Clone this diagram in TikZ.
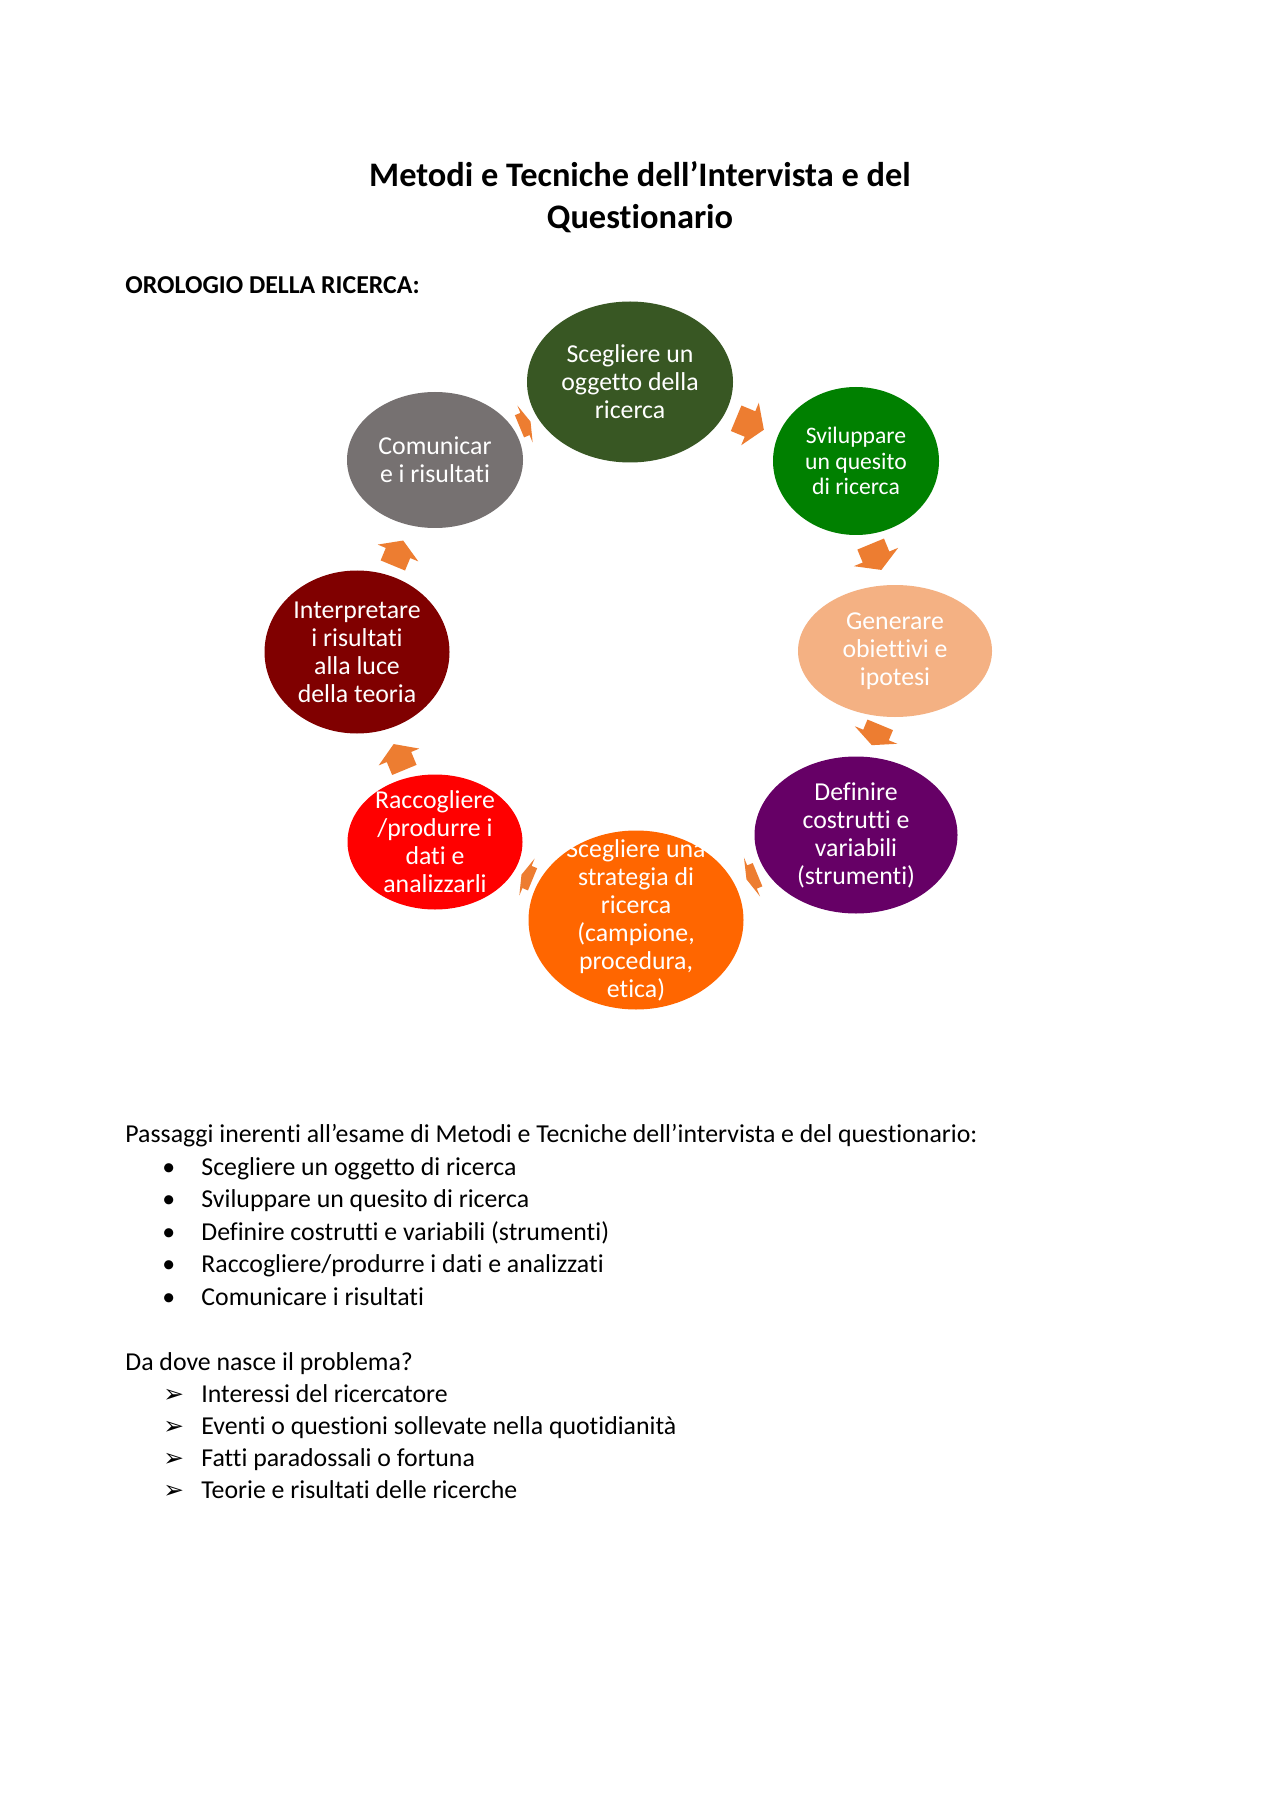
\documentclass[tikz,border=0pt]{standalone}
\usepackage{fontspec}
\setmainfont{Carlito}[Ligatures={NoCommon}]
\newfontfamily\djv{DejaVu Sans}
\usetikzlibrary{shapes.geometric}
\definecolor{arrowor}{HTML}{ED7D31}
\definecolor{cA}{HTML}{385723}
\definecolor{cB}{HTML}{008000}
\definecolor{cC}{HTML}{F4B183}
\definecolor{cD}{HTML}{660066}
\definecolor{cE}{HTML}{FF6600}
\definecolor{cF}{HTML}{FF0000}
\definecolor{cG}{HTML}{800000}
\definecolor{cH}{HTML}{767171}
\newcommand\cycarrow[4]{%
  \fill[arrowfill, shift={(#1)}, rotate=#2]
    (-#3/2,-0.3*#4) -- (0,-0.3*#4) -- (0,-0.5*#4) -- (#3/2,0) --
    (0,0.5*#4) -- (0,0.3*#4) -- (-#3/2,0.3*#4) -- cycle;}
\begin{document}
\begin{tikzpicture}[x=0.46511pt,y=-0.46511pt,
  ell/.style 2 args={ellipse, draw=none, inner sep=0pt,
      minimum width=#1*0.46511pt, minimum height=#2*0.46511pt},
  etxt/.style={text=white, font=\fontsize{12}{13}\selectfont, align=center, inner sep=0pt},
  etxts/.style={text=white, font=\fontsize{11}{12}\selectfont, align=center, inner sep=0pt},
  body/.style={anchor=base west, inner sep=0pt, font=\fontsize{12}{14}\selectfont},
  ttl/.style={anchor=base, inner sep=0pt, font=\fontsize{16}{19}\selectfont\bfseries},
  arrowfill/.style={fill=arrowor}]
\useasboundingbox (0,0) rectangle (1280,1811);
\fill[white] (0,0) rectangle (1280,1811);

% title
\node[ttl] (t1) at (640,187) {Metodi e Tecniche dell’Intervista e del};
\node[ttl] (t2) at (640,229) {Questionario};
\node[body, font=\fontsize{12}{14}\selectfont\bfseries] (orol) at (125,294) {OROLOGIO DELLA RICERCA:};

% cycle nodes
\node[ell={206}{161}, fill=cA] (n1) at (630,382) {};
\node[etxt] at (n1) {Scegliere un\\oggetto della\\ricerca};
\node[ell={166}{148}, fill=cB] (n2) at (856,461) {};
\node[etxts] at (n2) {Sviluppare\\un quesito\\di ricerca};
\node[ell={194}{132}, fill=cC] (n3) at (895,651) {};
\node[etxt] at (n3) {Generare\\obiettivi e\\ipotesi};
\node[ell={203}{157}, fill=cD] (n4) at (856,835) {};
\node[etxt] at (n4) {Definire\\costrutti e\\variabili\\(strumenti)};
\node[ell={215}{179}, fill=cE] (n5) at (636,920) {};
\node[etxt] at (n5) {Scegliere una\\strategia di\\ricerca\\(campione,\\procedura,\\etica)};
\node[ell={175}{135}, fill=cF] (n6) at (435,842) {};
\node[etxt] at (n6) {Raccogliere\\/produrre i\\dati e\\analizzarli};
\node[ell={185}{163}, fill=cG] (n7) at (357,652) {};
\node[etxt] at (n7) {Interpretare\\i risultati\\alla luce\\della teoria};
\node[ell={176}{136}, fill=cH] (n8) at (435,460) {};
\node[etxt] at (n8) {Comunicar\\e i risultati};

% cycle arrows
\coordinate (a12) at (750,424);
\coordinate (a23) at (876,557);
\coordinate (a34) at (876,735);
\coordinate (a45) at (752,877);
\coordinate (a56) at (527,877);
\coordinate (a67) at (399,757);
\coordinate (a78) at (398,553);
\coordinate (a81) at (525,424);
\cycarrow{a12}{-22.5}{30}{46}
\cycarrow{a23}{-67.5}{28}{48}
\cycarrow{a34}{-112.5}{22}{46}
\cycarrow{a45}{-157.5}{12}{42}
\cycarrow{a56}{157.5}{12}{40}
\cycarrow{a67}{112.5}{28}{44}
\cycarrow{a78}{67.5}{27}{44}
\cycarrow{a81}{22.5}{12}{40}

% body text
\node[body] (p1) at (125,1142) {Passaggi inerenti all’esame di Metodi e Tecniche dell’intervista e del questionario:};
\foreach \yy/\tx [count=\i] in {1175/{Scegliere un oggetto di ricerca},
  1207/{Sviluppare un quesito di ricerca},
  1240/{Definire costrutti e variabili (strumenti)},
  1272/{Raccogliere/produrre i dati e analizzati},
  1305/{Comunicare i risultati}}{
  \node[body] (b\i) at (162,\yy) {•};
  \node[body] (bt\i) at (201,\yy) {\tx};
}
\node[body] (p2) at (125,1370) {Da dove nasce il problema?};
\foreach \yy/\tx [count=\i] in {1402/{Interessi del ricercatore},
  1434/{Eventi o questioni sollevate nella quotidianità},
  1466/{Fatti paradossali o fortuna},
  1498/{Teorie e risultati delle ricerche}}{
  \node[body] (r\i) at (163,\yy) {{\djv\fontsize{11.5}{13}\selectfont ➢}};
  \node[body] (rt\i) at (201,\yy) {\tx};
}
\end{tikzpicture}
\end{document}
